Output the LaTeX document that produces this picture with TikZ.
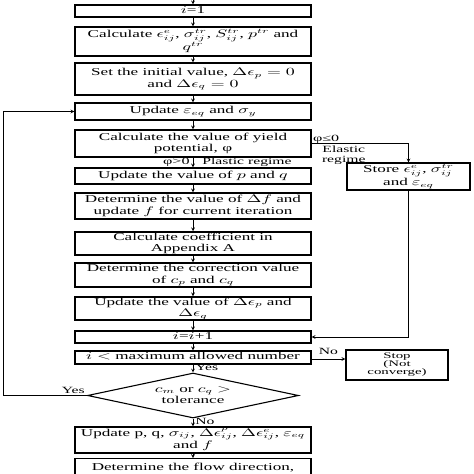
\documentclass[tikz,border=0pt]{standalone}
\usepackage{fontspec}
\setmainfont{Liberation Serif}
\usepackage{graphicx}
\usetikzlibrary{shapes.geometric}
\usetikzlibrary{calc}

% stretched text block (the chart is wide and flat)
\newcommand{\wx}[2][1.63]{\scalebox{#1}[1]{\begin{tabular}{@{}c@{}}#2\end{tabular}}}

\begin{document}
\begin{tikzpicture}[x=1pt, y=-1pt, >=stealth,
    every node/.style={font=\fontsize{10.5}{11.6}\selectfont, inner sep=0pt},
    box/.style={draw, line width=1.3pt, minimum width=236pt, align=center},
    sidebox/.style={draw, line width=1.3pt, align=center},
    cond/.style={draw, diamond, aspect=4.7, line width=1.1pt, minimum width=211pt, minimum height=45pt},
    link/.style={->, line width=0.7pt},
    lbl/.style={font=\fontsize{9.5}{10}\selectfont}]

      \useasboundingbox (0,0) rectangle (474,474);
      \clip (0,0) rectangle (474,474);

      % x of the main column
      \def\cx{193}

      % Main column
      \node[box, minimum height=12pt] (iset) at (\cx,11) {\wx{$i$=1}};
      \node[box, minimum height=29pt, font=\fontsize{10.5}{13}\selectfont] (calc) at (\cx,41.5) {\wx{Calculate $\epsilon^{e}_{ij}$, $\sigma^{tr}_{ij}$, $S^{tr}_{ij}$, $p^{tr}$ and\\ $q^{tr}$}};
      \node[box, minimum height=32pt] (initval) at (\cx,79) {\wx{Set the initial value, $\Delta\epsilon_p=0$\\ and $\Delta\epsilon_q=0$}};
      \node[box, minimum height=17pt] (updeq) at (\cx,111.5) {\wx{Update $\varepsilon_{eq}$ and $\sigma_y$}};
      \node[box, minimum height=27pt] (yield) at (\cx,143.5) {\wx{Calculate the value of yield\\ potential, φ}};
      \node[box, minimum height=16pt] (updpq) at (\cx,176) {\wx{Update the value of $p$ and $q$}};
      \node[box, minimum height=26pt] (delf) at (\cx,206) {\wx{Determine the value of $\Delta f$ and\\ update $f$ for current iteration}};
      \node[box, minimum height=21pt] (coef) at (\cx,243.5) {\wx{Calculate coefficient in\\ Appendix A}};
      \node[box, minimum height=24pt] (corr) at (\cx,275) {\wx{Determine the correction value\\ of $c_p$ and $c_q$}};
      \node[box, minimum height=23pt] (upddel) at (\cx,308.5) {\wx{Update the value of $\Delta\epsilon_p$ and\\ $\Delta\epsilon_q$}};
      \node[box, minimum height=12pt] (incr) at (\cx,337) {\wx{$i$=$i$+1}};
      \node[box, minimum height=13pt] (check) at (\cx,357.5) {\wx{$i<$ maximum allowed number}};
      \node[cond] (tol) at (\cx,395.5) {\wx{$c_m$ or $c_q$ $>$\\ tolerance}};
      \node[box, minimum height=26pt, font=\fontsize{10.5}{12.5}\selectfont] (updall) at (\cx,440) {\wx{Update p, q, $\sigma_{ij}$, $\Delta\epsilon^{p}_{ij}$, $\Delta\epsilon^{e}_{ij}$, $\varepsilon_{eq}$\\ and $f$}};
      \node[box, minimum height=30pt, anchor=north] (flow) at (\cx,458) {\wx{Determine the flow direction,\\ \strut}};

      % Side boxes
      \node[sidebox, minimum width=123pt, minimum height=27pt, font=\fontsize{10.5}{13.5}\selectfont] (store) at (408.5,176.5) {\wx{Store $\epsilon^{e}_{ij}$, $\sigma^{tr}_{ij}$\\ and $\varepsilon_{eq}$}};
      \node[sidebox, minimum width=102pt, minimum height=30pt, font=\fontsize{8.5}{8}\selectfont] (stop) at (397,365) {\wx[1.75]{Stop\\ (Not\\ converge)}};

      % Straight links down the column
      \coordinate (top) at (\cx,0);
      \draw[link] (top) -- (iset);
      \foreach \a/\b in {iset/calc, calc/initval, initval/updeq, updeq/yield,
                         updpq/delf, delf/coef, coef/corr, corr/upddel,
                         upddel/incr, incr/check} {
        \draw[link] (\a) -- (\b);
      }

      % Plastic branch
      \draw[link] (yield) -- node[lbl, left=3pt] {\wx[1.7]{φ>0}} node[lbl, right=9pt] {\wx[1.65]{Plastic regime}} (updpq);

      % Elastic branch
      \draw[link] (yield.east) -- node[lbl, pos=0, anchor=south west, xshift=1pt, yshift=-1pt] {\wx[1.7]{φ≤0}}
                  node[lbl, pos=0, anchor=north west, xshift=10pt, yshift=-2pt] {\wx[1.65]{Elastic\\ regime}}
                  (store.north |- yield.east) -- (store.north);
      \draw[link] (store.south) |- (incr.east);

      % Iteration limit
      \draw[link] (check.east |- 0,359) -- node[lbl, above, yshift=1pt] {\wx[1.65]{No}} (stop.west |- 0,359);
      \draw[link] (check) -- node[lbl, right=2pt] {\wx[1.65]{Yes}} (tol);

      % Convergence test
      \draw[link] (tol) -- node[lbl, right=2pt] {\wx[1.65]{No}} (updall);
      \draw[link] (updall) -- (flow);
      \coordinate (back) at (3,0);
      \draw[link] (tol.west) -- node[lbl, pos=0, anchor=south east, xshift=-2pt, yshift=-1pt] {\wx[1.65]{Yes}}
                  (tol.west -| back) |- (updeq.west);

\end{tikzpicture}
\end{document}
